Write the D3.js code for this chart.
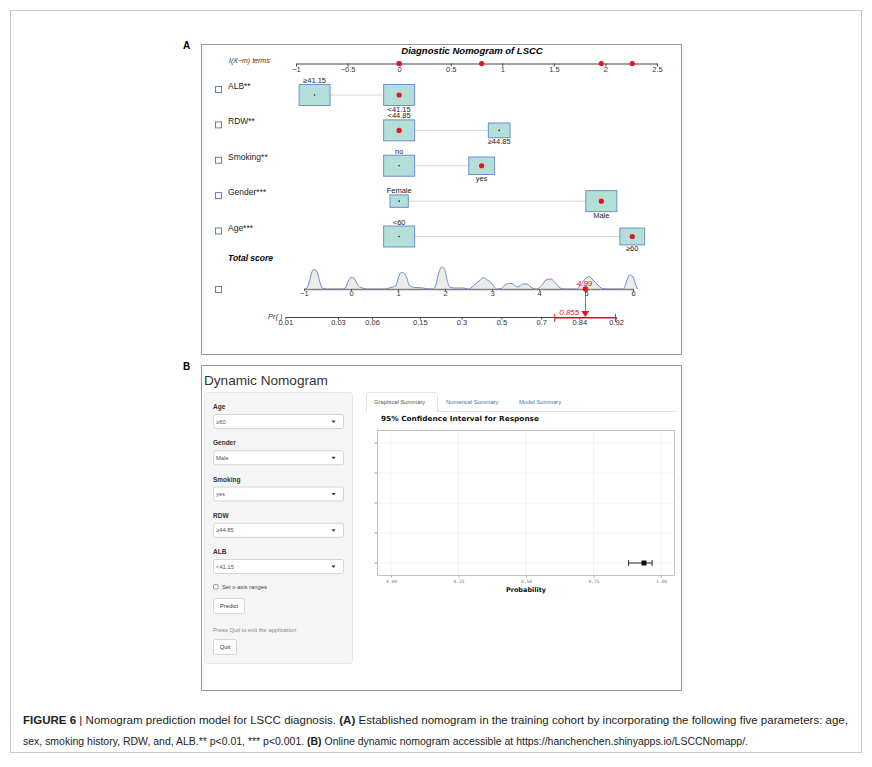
<!DOCTYPE html>
<html lang="en">
<head>
<meta charset="utf-8">
<title>Figure 6 - LSCC nomogram</title>
<script src="https://cdnjs.cloudflare.com/ajax/libs/d3/7.8.5/d3.min.js"></script>
<style>
  body { margin: 0; background: #fff; }
  svg { font-family: "Liberation Sans", Arial, sans-serif; display: block; }
</style>
</head>
<body>
<script>
// ---------- panel A : nomogram ----------
var terms = ["ALB**", "RDW**", "Smoking**", "Gender***", "Age***"];
var levelNames = [["≥41.15", "<41.15"], ["<44.85", "≥44.85"], ["no", "yes"], ["Female", "Male"], ["<60", "≥60"]];
var levelPoints = [[-0.82, 0], [0, 0.97], [0, 0.80], [0, 1.96], [0, 2.26]];
var levelShare = [[0.50, 0.50], [0.67, 0.33], [0.59, 0.41], [0.26, 0.74], [0.61, 0.39]];
var chosenLevel = [1, 0, 1, 1, 1];
var pointTicks = [-1, -0.5, 0, 0.5, 1, 1.5, 2, 2.5];

// density of total score in the training cohort
var densScore = [-1.0, -0.95, -0.9, -0.85, -0.8, -0.75, -0.7, -0.65, -0.6, -0.5, -0.2, -0.12, -0.06, 0.0, 0.06, 0.12, 0.18, 0.25, 0.35,
  0.7, 0.85, 0.95, 1.0, 1.05, 1.1, 1.18, 1.25, 1.35, 1.5, 1.62, 1.75, 1.8, 1.86, 1.93, 1.99, 2.04, 2.1, 2.2, 2.4, 2.5,
  2.55, 2.65, 2.75, 2.82, 2.9, 2.97, 3.05, 3.1, 3.2, 3.3, 3.4, 3.5, 3.55, 3.65, 3.75, 3.85, 3.95,
  4.05, 4.15, 4.25, 4.35, 4.45, 4.55, 4.8, 4.9, 5.0, 5.07, 5.15, 5.25, 5.35, 5.5, 5.8, 5.85, 5.93, 6.0, 6.05, 6.1];
var densValue = [0, 0.5, 5, 14, 19.5, 19, 14, 5, 0.5, 0, 0, 1, 8, 11.5, 11, 6, 2, 1, 0,
  0, 1.5, 3, 10, 16, 16.5, 12, 3, 1.5, 1.2, 0.3, 0, 3, 15, 22, 20, 10, 2, 1, 1, 0,
  1, 5, 9, 11.5, 9, 7, 2, 0, 0.5, 5, 5.5, 3, 2, 5, 5, 1, 0,
  3, 9, 10, 6, 1, 0, 0, 5, 11, 12.5, 9, 4, 0.5, 0, 0, 6, 14, 12, 5, 0];
var scoreTicks = [-1, 0, 1, 2, 3, 4, 5, 6];

var probTicksA = [0.01, 0.03, 0.06, 0.15, 0.3, 0.5, 0.7, 0.84, 0.92];
var lpIntercept = -3.21, lpSlope = 1.0;   // logit(Pr) = intercept + slope * total score
var totalScore = 4.99, predProb = 0.855, predCI = [0.755, 0.918];

// ---------- panel B : dynamic nomogram ----------
var inputNames = ["Age", "Gender", "Smoking", "RDW", "ALB"];
var inputValues = ["≥60", "Male", "yes", "≥44.85", "<41.15"];
var tabNames = ["Graphical Summary", "Numerical Summary", "Model Summary"];
var probTicksB = [0, 0.25, 0.5, 0.75, 1];
var predRows = ["1", "2", "3", "4", "5"];
var dynRow = "1", dynFit = 0.937, dynLwr = 0.88, dynUpr = 0.967;

var captionLine1 = [["FIGURE 6", true], [" | Nomogram prediction model for LSCC diagnosis. ", false], ["(A)", true],
  [" Established nomogram in the training cohort by incorporating the following five parameters: age,", false]];
var captionLine2 = [["sex, smoking history, RDW, and, ALB.** p<0.01, *** p<0.001. ", false], ["(B)", true],
  [" Online dynamic nomogram accessible at https://hanchenchen.shinyapps.io/LSCCNomapp/.", false]];

var width = 872, height = 767;
var svg = d3.select("body").append("svg").attr("width", width).attr("height", height);
svg.append("rect").attr("width", width).attr("height", height).attr("fill", "#fff");

// outer frame
svg.append("rect").attr("x", 10.5).attr("y", 10.5).attr("width", 851).attr("height", 742)
  .attr("fill", "none").attr("stroke", "#c8c8c8");

// ================= PANEL A =================
svg.append("text").attr("x", 183).attr("y", 49).attr("font-size", 10).attr("font-weight", "bold").text("A");
svg.append("rect").attr("x", 201.5).attr("y", 44.5).attr("width", 480).attr("height", 310)
  .attr("fill", "#fff").attr("stroke", "#9a9a9a");

var a = svg.append("g");
var ptsX = d3.scaleLinear().domain([-1, 2.5]).range([296, 657]);
var rowY = d3.scalePoint().domain(terms).range([95, 236.5]);

a.append("text").attr("x", 472).attr("y", 54).attr("text-anchor", "middle")
  .attr("font-size", 9.5).attr("font-weight", "bold").attr("font-style", "italic")
  .text("Diagnostic Nomogram of LSCC");
a.append("text").attr("x", 229).attr("y", 63).attr("font-size", 7).attr("font-style", "italic")
  .attr("fill", "#333").text("I(X−m) terms");

var topAxis = a.append("g").attr("transform", "translate(0,63.5)")
  .call(d3.axisBottom(ptsX).tickValues(pointTicks).tickSize(3).tickPadding(0).tickSizeOuter(0).tickFormat(d3.format("")));
topAxis.select(".domain").attr("stroke", "#444");
topAxis.selectAll(".tick line").attr("stroke", "#444");
topAxis.selectAll("text").attr("font-size", 7.5).attr("fill", "#333").attr("font-family", "Liberation Sans, Arial");

// red points on the top axis for the chosen levels
a.selectAll(".axdot").data(terms).enter().append("circle")
  .attr("cx", function(d, i) { return ptsX(levelPoints[i][chosenLevel[i]]); })
  .attr("cy", 63.5).attr("r", 2.6).attr("fill", "#e8141b");

// rows
terms.forEach(function(t, i) {
  var cy = rowY(t);
  var g = a.append("g");
  g.append("rect").attr("x", 215.5).attr("y", cy - 8.5).attr("width", 6).attr("height", 6)
    .attr("fill", "#fff").attr("stroke", "#5b7fd0");
  g.append("text").attr("x", 228).attr("y", cy - 6).attr("font-size", 8.5).attr("fill", "#222").text(t);

  var share = levelShare[i], maxShare = d3.max(share);
  var wS = d3.scaleSqrt().domain([0, maxShare]).range([0, 31]);
  var hS = d3.scaleSqrt().domain([0, maxShare]).range([0, 21]);
  g.append("line").attr("x1", ptsX(levelPoints[i][0])).attr("x2", ptsX(levelPoints[i][1]))
    .attr("y1", cy).attr("y2", cy).attr("stroke", "#d6d6d6").attr("stroke-width", 1);
  levelNames[i].forEach(function(name, j) {
    var cx = ptsX(levelPoints[i][j]), w = wS(share[j]), h = hS(share[j]);
    g.append("rect").attr("x", cx - w / 2).attr("y", cy - h / 2).attr("width", w).attr("height", h)
      .attr("fill", "#b3dfd8").attr("stroke", "#6f8fcf").attr("stroke-width", 1);
    if (chosenLevel[i] === j) {
      g.append("circle").attr("cx", cx).attr("cy", cy).attr("r", 2.6).attr("fill", "#e8141b");
    } else {
      g.append("circle").attr("cx", cx).attr("cy", cy).attr("r", 0.8).attr("fill", "#222");
    }
    g.append("text").attr("x", cx).attr("y", j === 0 ? cy - h / 2 - 1.5 : cy + h / 2 + 6)
      .attr("text-anchor", "middle").attr("font-size", 7.5).attr("fill", "#222").text(name);
  });
});

// total score
a.append("text").attr("x", 228).attr("y", 261).attr("font-size", 8.5).attr("font-weight", "bold")
  .attr("font-style", "italic").text("Total score");
a.append("rect").attr("x", 215.5).attr("y", 286.5).attr("width", 6).attr("height", 6)
  .attr("fill", "#fff").attr("stroke", "#5b7fd0");

var scoreX = d3.scaleLinear().domain([-1, 6]).range([304, 633]);
var densY = d3.scaleLinear().domain([0, 22]).range([289, 267]);
var densPts = densScore.map(function(s, i) { return [s, densValue[i]]; });
a.append("path").datum(densPts)
  .attr("d", d3.area().x(function(d) { return scoreX(d[0]); }).y0(densY(0)).y1(function(d) { return densY(d[1]); })
    .curve(d3.curveMonotoneX))
  .attr("fill", "#ececec");
a.append("path").datum(densPts)
  .attr("d", d3.line().x(function(d) { return scoreX(d[0]); }).y(function(d) { return densY(d[1]); })
    .curve(d3.curveMonotoneX))
  .attr("fill", "none").attr("stroke", "#6f8bd0").attr("stroke-width", 1);

var scoreAxis = a.append("g").attr("transform", "translate(0,289)")
  .call(d3.axisBottom(scoreX).tickValues(scoreTicks).tickSize(2).tickPadding(0).tickSizeOuter(0).tickFormat(d3.format("")));
scoreAxis.select(".domain").attr("stroke", "#808080").attr("stroke-width", 1.6);
scoreAxis.selectAll(".tick line").attr("stroke", "#555");
scoreAxis.selectAll("text").attr("font-size", 7.5).attr("fill", "#333").attr("font-family", "Liberation Sans, Arial");

// probability axis, placed through the logistic link
function probToScore(p) { return (Math.log(p / (1 - p)) - lpIntercept) / lpSlope; }
var probX = function(p) { return scoreX(probToScore(p)); };
a.append("text").attr("x", 268).attr("y", 319).attr("font-size", 7.5).attr("font-style", "italic")
  .attr("fill", "#333").text("Pr( )");
var prAxisG = a.append("g").attr("transform", "translate(0,317.5)");
prAxisG.append("line").attr("x1", probX(probTicksA[0])).attr("x2", probX(probTicksA[probTicksA.length - 1]))
  .attr("stroke", "#444");
var prTick = prAxisG.selectAll(".prt").data(probTicksA).enter().append("g")
  .attr("transform", function(d) { return "translate(" + probX(d) + ",0)"; });
prTick.append("line").attr("y2", 2).attr("stroke", "#444");
prTick.append("text").attr("y", 7).attr("text-anchor", "middle").attr("font-size", 7.5).attr("fill", "#333")
  .text(function(d) { return d3.format("")(d); });

// prediction marker
var red = "#e8141b";
var xs = scoreX(totalScore);
a.append("line").attr("x1", xs).attr("x2", xs).attr("y1", 289).attr("y2", 313).attr("stroke", red).attr("stroke-width", 0.8);
a.append("circle").attr("cx", xs).attr("cy", 289).attr("r", 2.8).attr("fill", red);
a.append("text").attr("x", xs - 1).attr("y", 286).attr("text-anchor", "middle").attr("font-size", 8)
  .attr("font-style", "italic").attr("fill", red).text(d3.format(".2f")(totalScore));
var xp = probX(predProb);
a.append("path").attr("d", "M" + (xp - 4) + ",311 L" + (xp + 4) + ",311 L" + xp + ",317 Z").attr("fill", red);
a.append("text").attr("x", xp - 6).attr("y", 315).attr("text-anchor", "end").attr("font-size", 8)
  .attr("font-style", "italic").attr("fill", red).text(d3.format(".3f")(predProb));
var ciG = a.append("g").attr("stroke", red).attr("stroke-width", 1);
ciG.append("line").attr("x1", probX(predCI[0])).attr("x2", probX(predCI[1])).attr("y1", 318).attr("y2", 318);
predCI.forEach(function(p) {
  ciG.append("line").attr("x1", probX(p)).attr("x2", probX(p)).attr("y1", 314).attr("y2", 322);
});

// ================= PANEL B =================
svg.append("text").attr("x", 183).attr("y", 370).attr("font-size", 10).attr("font-weight", "bold").text("B");
svg.append("rect").attr("x", 201.5).attr("y", 365.5).attr("width", 480).attr("height", 325)
  .attr("fill", "#fff").attr("stroke", "#9a9a9a");

var b = svg.append("g");
b.append("text").attr("x", 204).attr("y", 384.5).attr("font-size", 13.6).attr("fill", "#333").text("Dynamic Nomogram");

// sidebar
b.append("rect").attr("x", 204.5).attr("y", 392.5).attr("width", 148).attr("height", 271).attr("rx", 3)
  .attr("fill", "#f5f5f5").attr("stroke", "#e6e6e6");
var selY = d3.scalePoint().domain(inputNames).range([414, 559]);
inputNames.forEach(function(n, i) {
  var y = selY(n);
  b.append("text").attr("x", 213).attr("y", y - 5).attr("font-size", 6.5).attr("font-weight", "bold")
    .attr("fill", "#333").text(n);
  b.append("rect").attr("x", 213.5).attr("y", y + 0.5).attr("width", 130).attr("height", 14).attr("rx", 2)
    .attr("fill", "#fff").attr("stroke", "#d4d4d4");
  b.append("text").attr("x", 216).attr("y", y + 9.5).attr("font-size", 5.8).attr("fill", "#555").text(inputValues[i]);
  b.append("path").attr("d", "M" + 331.5 + "," + (y + 6.5) + " l4,0 l-2,2.5 Z").attr("fill", "#333");
});
b.append("rect").attr("x", 213.5).attr("y", 584.5).attr("width", 4.5).attr("height", 4.5).attr("rx", 0.8)
  .attr("fill", "#fff").attr("stroke", "#777").attr("stroke-width", 0.7);
b.append("text").attr("x", 222).attr("y", 589).attr("font-size", 5.8).attr("fill", "#444").text("Set x-axis ranges");
b.append("rect").attr("x", 213.5).attr("y", 598.5).attr("width", 31).attr("height", 15).attr("rx", 2)
  .attr("fill", "#fff").attr("stroke", "#d4d4d4");
b.append("text").attr("x", 229).attr("y", 608).attr("text-anchor", "middle").attr("font-size", 5.8)
  .attr("fill", "#333").text("Predict");
b.append("text").attr("x", 213).attr("y", 632).attr("font-size", 5.8).attr("fill", "#888")
  .text("Press Quit to exit the application");
b.append("rect").attr("x", 213.5).attr("y", 639.5).attr("width", 23).attr("height", 15).attr("rx", 2)
  .attr("fill", "#fff").attr("stroke", "#d4d4d4");
b.append("text").attr("x", 225).attr("y", 649).attr("text-anchor", "middle").attr("font-size", 5.8)
  .attr("fill", "#333").text("Quit");

// tabs
b.append("line").attr("x1", 366).attr("x2", 677).attr("y1", 411.5).attr("y2", 411.5).attr("stroke", "#e2e2e2");
b.append("path").attr("d", "M366.5,411.5 V394.5 Q366.5,392.5 368.5,392.5 H435.5 Q437.5,392.5 437.5,394.5 V411.5")
  .attr("fill", "#fff").attr("stroke", "#e2e2e2");
b.append("line").attr("x1", 367).attr("x2", 437).attr("y1", 411.5).attr("y2", 411.5).attr("stroke", "#fff");
var tabX = [374, 446, 519];
tabNames.forEach(function(t, i) {
  b.append("text").attr("x", tabX[i]).attr("y", 404).attr("font-size", 5.8)
    .attr("fill", i === 0 ? "#555" : "#3a78b5").text(t);
});

// ggplot-like CI chart
var px0 = 377, px1 = 674, py0 = 430, py1 = 575;
var probXB = d3.scaleLinear().domain([0, 1]).range([391, 661]);
var rowYB = d3.scalePoint().domain(predRows).range([563, 443]);
b.append("text").attr("x", 381).attr("y", 421).attr("font-size", 7).attr("font-weight", "bold")
  .attr("font-family", "DejaVu Sans, sans-serif").attr("fill", "#111").attr("textLength", 158)
  .attr("lengthAdjust", "spacingAndGlyphs").text("95% Confidence Interval for Response");
b.append("rect").attr("x", px0 + 0.5).attr("y", py0 + 0.5).attr("width", px1 - px0).attr("height", py1 - py0)
  .attr("fill", "#fff");
b.selectAll(".vg").data(probTicksB).enter().append("line")
  .attr("x1", function(d) { return probXB(d); }).attr("x2", function(d) { return probXB(d); })
  .attr("y1", py0).attr("y2", py1).attr("stroke", "#efefef").attr("stroke-width", 0.8);
b.selectAll(".hg").data(predRows).enter().append("line")
  .attr("x1", px0).attr("x2", px1)
  .attr("y1", function(d) { return rowYB(d); }).attr("y2", function(d) { return rowYB(d); })
  .attr("stroke", "#efefef").attr("stroke-width", 0.8);
b.append("rect").attr("x", px0 + 0.5).attr("y", py0 + 0.5).attr("width", px1 - px0).attr("height", py1 - py0)
  .attr("fill", "none").attr("stroke", "#b5b5b5").attr("stroke-width", 0.8);
b.selectAll(".yt").data(predRows).enter().append("line")
  .attr("x1", px0 - 2.5).attr("x2", px0)
  .attr("y1", function(d) { return rowYB(d); }).attr("y2", function(d) { return rowYB(d); })
  .attr("stroke", "#555").attr("stroke-width", 0.6);
var xAxB = b.append("g").attr("transform", "translate(0," + (py1 + 0.5) + ")")
  .call(d3.axisBottom(probXB).tickValues(probTicksB).tickSize(2).tickPadding(2).tickFormat(d3.format(".2f")));
xAxB.select(".domain").remove();
xAxB.selectAll(".tick line").attr("stroke", "#777").attr("stroke-width", 0.6);
xAxB.selectAll("text").attr("font-size", 4.5).attr("fill", "#777").attr("font-family", "DejaVu Sans Mono, monospace");
b.append("text").attr("x", probXB(0.5)).attr("y", 592).attr("text-anchor", "middle").attr("font-size", 6.5)
  .attr("font-weight", "bold").attr("font-family", "DejaVu Sans, sans-serif").attr("fill", "#111").text("Probability");

var ey = rowYB(dynRow);
var eb = b.append("g").attr("stroke", "#111").attr("stroke-width", 0.9);
eb.append("line").attr("x1", probXB(dynLwr)).attr("x2", probXB(dynUpr)).attr("y1", ey).attr("y2", ey);
[dynLwr, dynUpr].forEach(function(v) {
  eb.append("line").attr("x1", probXB(v)).attr("x2", probXB(v)).attr("y1", ey - 3).attr("y2", ey + 3);
});
b.append("rect").attr("x", probXB(dynFit) - 2.5).attr("y", ey - 2.5).attr("width", 5).attr("height", 5).attr("fill", "#111");

// ================= CAPTION =================
function captionLine(parts, y, len) {
  var t = svg.append("text").attr("x", 23).attr("y", y).attr("font-size", 10)
    .attr("font-family", "Liberation Sans Narrow, Liberation Sans, Arial").attr("fill", "#222")
    .attr("textLength", len).attr("lengthAdjust", "spacingAndGlyphs");
  parts.forEach(function(p) {
    t.append("tspan").attr("font-weight", p[1] ? "bold" : "normal").text(p[0]);
  });
}
captionLine(captionLine1, 724, 825);
captionLine(captionLine2, 745, 725);
</script>
</body>
</html>
